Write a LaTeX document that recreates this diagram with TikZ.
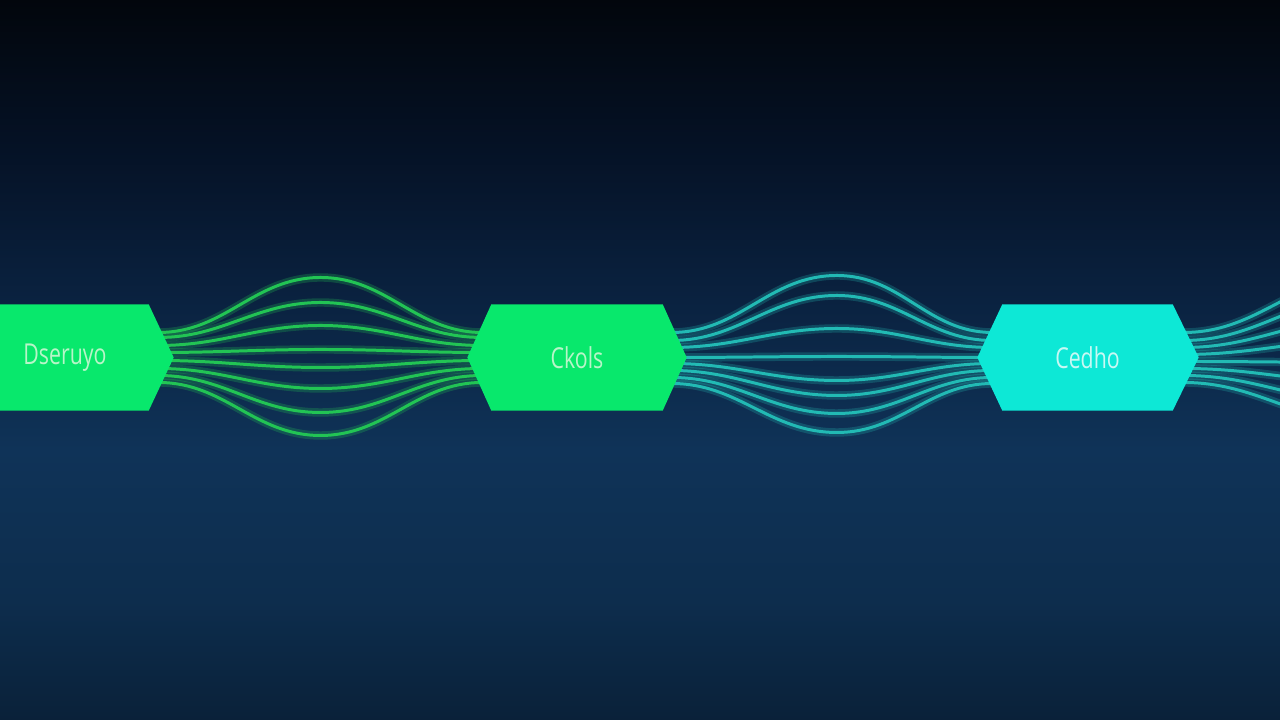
\documentclass[tikz,border=0pt]{standalone}
\usepackage{fontspec}
\setmainfont{Open Sans}
\usepackage{graphicx}
\usetikzlibrary{calc}
\pgfdeclarelayer{bglayer}
\pgfdeclarelayer{linelayer}
\pgfdeclarelayer{hexlayer}
\pgfsetlayers{bglayer,linelayer,hexlayer,main}
\definecolor{bgTop}{HTML}{02060C}
\definecolor{bgA}{HTML}{051226}
\definecolor{bgB}{HTML}{0A2240}
\definecolor{bgC}{HTML}{0F3358}
\definecolor{bgD}{HTML}{0D2D4D}
\definecolor{bgE}{HTML}{0A2139}
\definecolor{hexG}{HTML}{08E86C}
\definecolor{hexC}{HTML}{0DE8D6}
\definecolor{lineG}{HTML}{22C454}
\definecolor{lineC}{HTML}{22BAB4}
\definecolor{txtG}{HTML}{B8F5C8}
\definecolor{txtC}{HTML}{C8F8F4}
\pgfdeclareverticalshading{bgshade}{100bp}{color(0bp)=(bgE); color(25bp)=(bgE); color(33.33bp)=(bgD); color(43.75bp)=(bgC); color(54.17bp)=(bgB); color(64.58bp)=(bgA); color(75bp)=(bgTop); color(100bp)=(bgTop)}
\newcommand{\lbl}[1]{\raisebox{-0.4pt}{\scalebox{0.74}[1]{#1}}}
\tikzset{
  hexbox/.style={rectangle, minimum height=1.05cm, inner sep=0pt, font=\fontsize{8.2}{10}\selectfont},
  wireG/.style={draw=lineG, line width=0.85pt, preaction={draw=lineG, line width=2.4pt, draw opacity=0.25}},
  wireC/.style={draw=lineC, line width=0.85pt, preaction={draw=lineC, line width=2.4pt, draw opacity=0.25}}
}
\begin{document}
\begin{tikzpicture}
\useasboundingbox (0,0) rectangle (12.8,7.2);
\begin{pgfonlayer}{bglayer}
\shade[shading=bgshade] (0,0) rectangle (12.8,7.2);
\end{pgfonlayer}

\node[hexbox, minimum width=1.66cm, text=txtG] (n1) at (0.65,3.625) {\lbl{Dseruyo}};
\node[hexbox, minimum width=1.70cm, text=txtG] (n2) at (5.77,3.625) {\lbl{Ckols}};
\node[hexbox, minimum width=1.69cm, text=txtC] (n3) at (10.875,3.625) {\lbl{Cedho}};

\coordinate (n1L) at ($(n1.west)+(-0.25,0)$);
\coordinate (n1R) at ($(n1.east)+(0.25,0)$);
\coordinate (n2L) at ($(n2.west)+(-0.24,0)$);
\coordinate (n2R) at ($(n2.east)+(0.24,0)$);
\coordinate (n3L) at ($(n3.west)+(-0.25,0)$);
\coordinate (n3R) at ($(n3.east)+(0.26,0)$);
\coordinate (m1) at ($(n1R)!0.5!(n2L)$);
\coordinate (m2) at ($(n2R)!0.5!(n3L)+(0.05,0)$);
\coordinate (m3) at ($(n3R)+(1.7,0)$);

\begin{pgfonlayer}{hexlayer}
\fill[hexG] (n1.north west) -- (n1.north east) -- (n1R) -- (n1.south east) -- (n1.south west) -- (n1L) -- cycle;
\fill[hexG] (n2.north west) -- (n2.north east) -- (n2R) -- (n2.south east) -- (n2.south west) -- (n2L) -- cycle;
\fill[hexC] (n3.north west) -- (n3.north east) -- (n3R) -- (n3.south east) -- (n3.south west) -- (n3L) -- cycle;
\end{pgfonlayer}

\begin{pgfonlayer}{linelayer}
\foreach \e/\m in {0.25/0.80, 0.20/0.55, 0.12/0.32, 0.05/0.08, -0.03/-0.10, -0.11/-0.31, -0.18/-0.55, -0.25/-0.78}{
  \draw[wireG] ($(n1R)+(-0.15,\e)$) to[out=0,in=180] ($(m1)+(0,\m)$) to[out=0,in=180] ($(n2L)+(0.15,\e)$);
}
\foreach \e/\m in {0.25/0.82, 0.17/0.62, 0.10/0.29, 0.00/0.01, -0.06/-0.23, -0.13/-0.38, -0.20/-0.56, -0.26/-0.75}{
  \draw[wireC] ($(n2R)+(-0.15,\e)$) to[out=0,in=180] ($(m2)+(0,\m)$) to[out=0,in=180] ($(n3L)+(0.15,\e)$);
}
\foreach \e/\m in {0.25/0.82, 0.17/0.62, 0.10/0.40, 0.03/0.18, -0.04/-0.05, -0.11/-0.25, -0.18/-0.45, -0.25/-0.65}{
  \draw[wireC] ($(n3R)+(-0.15,\e)$) to[out=0,in=180] ($(m3)+(0,\m)$);
}
\end{pgfonlayer}
\end{tikzpicture}
\end{document}
